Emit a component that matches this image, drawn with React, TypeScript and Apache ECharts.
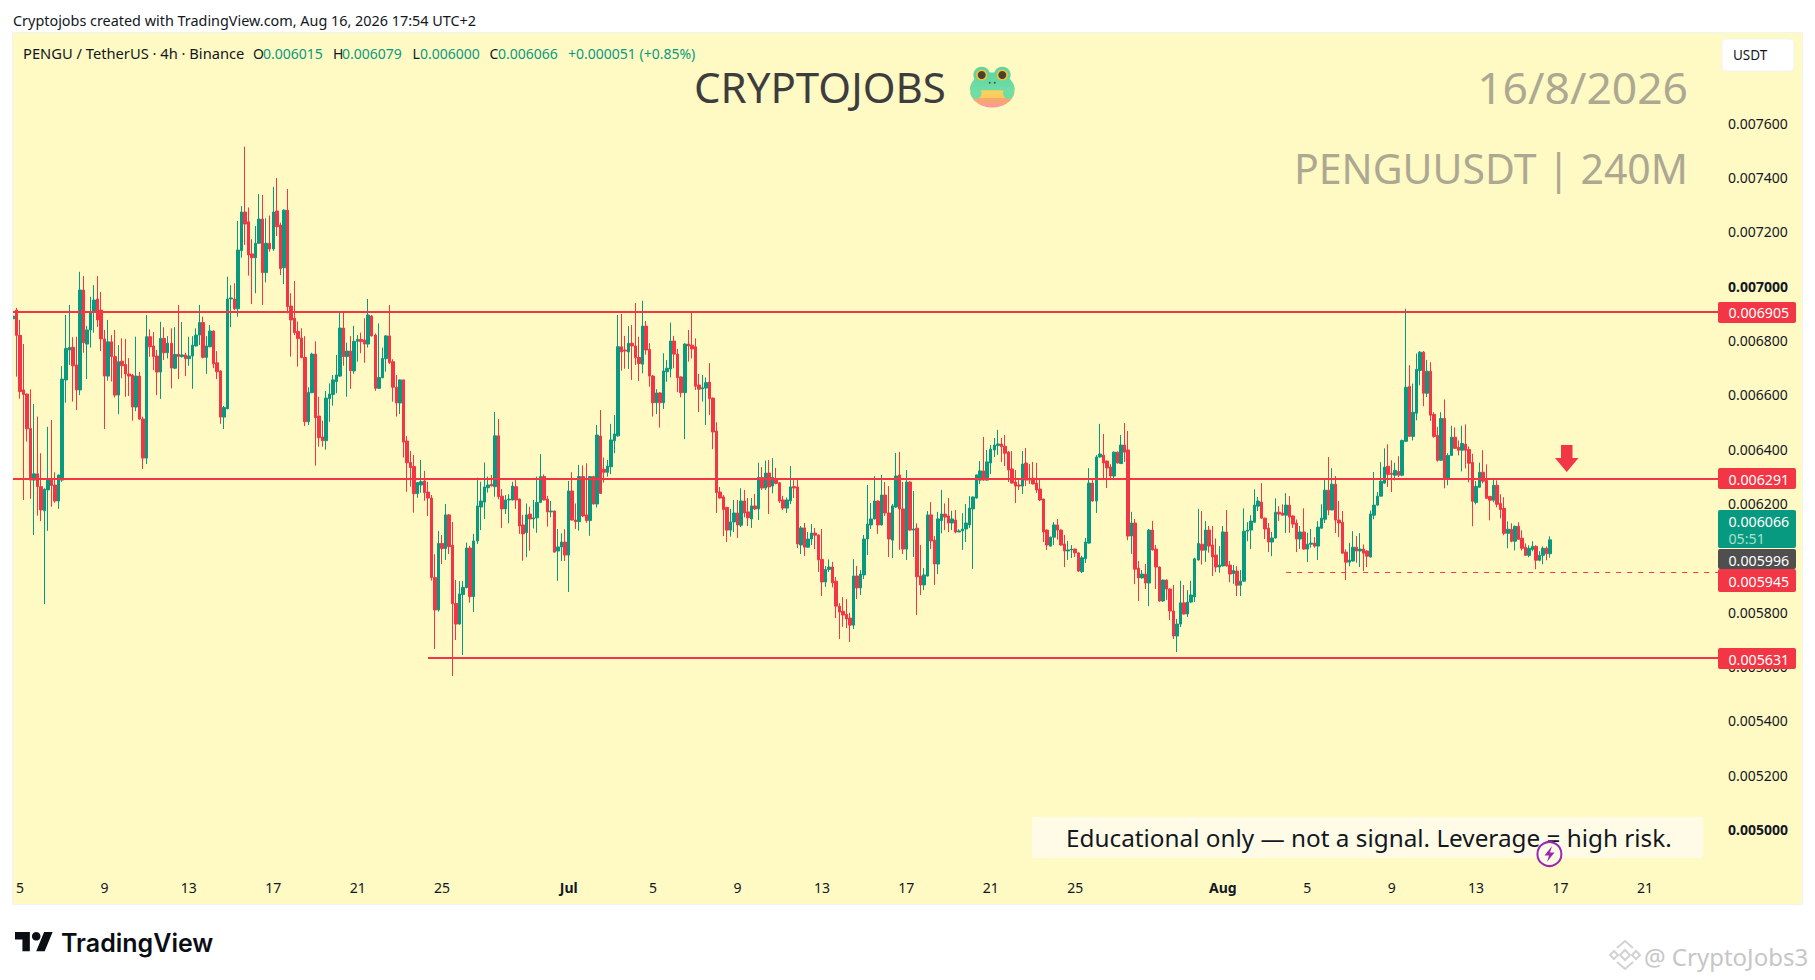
import React, { useEffect, useRef } from "react";
import * as echarts from "echarts";

// Prices are in millionths of USDT (6905 = 0.006905)
const opens = [
6880,6912,6819,6618,6603,6476,6286,6309,6262,6173,
6250,6286,6268,6209,6286,6655,6765,6775,6710,6618,
6986,6787,6839,6905,6953,6912,6806,6669,6795,6741,
6599,6724,6712,6677,6673,6555,6669,6511,6367,6814,
6780,6743,6684,6808,6755,6790,6698,6749,6741,6747,
6733,6743,6780,6820,6866,6738,6777,6835,6718,6688,
6518,6549,6953,6953,6917,7131,7273,7237,7119,7105,
7158,7247,7050,7158,7137,7277,7225,7068,7280,6927,
6882,6833,6809,6738,6501,6608,6750,6522,6445,6431,
6586,6601,6649,6669,6846,6741,6761,6688,6797,6804,
6802,6787,6890,6820,6624,6663,6733,6817,6722,6628,
6570,6655,6430,6351,6336,6236,6268,6283,6242,6220,
5927,5808,6053,6034,6158,6046,5832,5756,5865,5890,
6036,5857,6062,6187,6205,6258,6271,6262,6449,6227,
6180,6213,6213,6262,6216,6121,6093,6161,6143,6147,
6204,6299,6216,6169,6172,6025,6040,6058,6010,6246,
6139,6133,6299,6158,6137,6299,6198,6448,6326,6315,
6335,6431,6449,6777,6765,6758,6790,6780,6738,6713,
6853,6767,6669,6571,6607,6571,6685,6695,6798,6750,
6666,6608,6787,6783,6777,6636,6622,6625,6647,6588,
6467,6242,6224,6185,6102,6132,6165,6120,6209,6169,
6143,6191,6180,6296,6257,6312,6264,6290,6276,6213,
6183,6210,6262,6261,6047,6110,6039,6069,6091,6084,
5994,5911,5957,5966,5914,5822,5803,5792,5778,5752,
5933,5889,5937,6069,6121,6143,6209,6121,6231,6165,
6065,6187,6305,6180,6032,6279,6102,6109,5933,5900,
5933,6158,6065,5977,6137,6161,6154,6128,6139,6095,
6099,6106,6121,6180,6220,6286,6320,6286,6349,6397,
6413,6419,6411,6389,6327,6279,6268,6264,6349,6289,
6293,6275,6253,6216,6102,6043,6076,6121,6102,6051,
6025,6029,6032,6018,5949,5997,6054,6275,6209,6371,
6378,6356,6334,6301,6389,6347,6415,6397,6080,6128,
5962,5926,5940,5907,6102,6032,5966,5841,5918,5885,
5804,5712,5756,5834,5793,5837,5856,5992,6050,6028,
6102,6047,6010,5966,5970,6095,5973,5942,5951,5899,
5914,6098,6102,6131,6190,6205,6146,6109,6058,6073,
6168,6165,6157,6194,6154,6128,6069,6095,6032,6050,
6054,6043,6109,6142,6249,6176,6271,6139,6131,6021,
5984,5988,6039,6025,6032,6025,6003,6157,6194,6227,
6275,6337,6311,6304,6318,6304,6429,6631,6447,6532,
6690,6757,6606,6687,6528,6451,6359,6513,6293,6377,
6444,6407,6396,6418,6399,6351,6204,6260,6315,6285,
6226,6212,6267,6200,6182,6090,6105,6061,6116,6072,
6039,6009,6031,6042,5991,6009,6035,6015,
];
const closes = [
6890,6819,6612,6601,6475,6286,6309,6262,6176,6252,
6286,6266,6209,6305,6658,6771,6775,6707,6618,6986,
6792,6839,6906,6949,6876,6806,6669,6795,6741,6599,
6722,6707,6677,6669,6555,6669,6511,6367,6814,6777,
6741,6684,6808,6755,6790,6699,6749,6741,6747,6733,
6743,6783,6820,6866,6738,6780,6835,6714,6685,6518,
6553,6953,6957,6917,7133,7273,7229,7115,7105,7158,
7247,7050,7158,7137,7273,7219,7065,7280,6925,6876,
6829,6807,6737,6501,6609,6750,6516,6442,6431,6588,
6603,6655,6673,6846,6741,6761,6689,6797,6804,6796,
6787,6894,6817,6624,6664,6734,6817,6719,6628,6570,
6655,6426,6350,6332,6236,6277,6280,6240,6220,5927,
5808,6053,6034,6158,6041,5831,5756,5867,5891,6036,
5857,6062,6191,6209,6261,6268,6265,6449,6225,6180,
6213,6216,6264,6213,6117,6088,6158,6143,6147,6204,
6299,6213,6169,6172,6021,6040,6058,6010,6246,6139,
6133,6299,6154,6137,6299,6198,6452,6237,6315,6338,
6434,6456,6777,6758,6761,6790,6780,6737,6715,6853,
6765,6669,6571,6607,6571,6688,6698,6798,6750,6663,
6608,6787,6780,6769,6632,6621,6626,6645,6586,6463,
6240,6220,6178,6102,6132,6165,6121,6209,6165,6147,
6191,6180,6296,6257,6312,6261,6296,6274,6209,6183,
6213,6261,6257,6051,6110,6039,6069,6091,6083,5992,
5911,5957,5966,5908,5822,5800,5789,5775,5752,5933,
5889,5940,6069,6124,6143,6209,6121,6231,6165,6069,
6191,6301,6180,6032,6279,6102,6106,5930,5900,5937,
6158,6062,5977,6143,6161,6150,6128,6143,6095,6099,
6106,6128,6183,6224,6305,6320,6286,6353,6400,6415,
6419,6409,6385,6323,6275,6264,6264,6345,6286,6286,
6272,6250,6213,6095,6047,6076,6121,6102,6047,6025,
6029,6032,6018,5951,6000,6058,6275,6209,6371,6382,
6349,6331,6301,6389,6349,6415,6389,6080,6128,5958,
5926,5940,5907,6102,6029,5966,5841,5918,5885,5804,
5712,5756,5834,5793,5837,5863,5996,6053,6028,6102,
6043,6003,5966,5973,6095,5970,5940,5953,5899,5914,
6098,6102,6135,6194,6209,6146,6106,6058,6073,6168,
6161,6157,6194,6150,6124,6069,6095,6032,6050,6054,
6043,6113,6146,6249,6176,6271,6139,6128,6017,5984,
5991,6039,6025,6032,6017,6006,6161,6194,6227,6282,
6334,6307,6307,6322,6304,6432,6628,6447,6536,6694,
6757,6606,6687,6525,6447,6359,6513,6293,6377,6444,
6403,6396,6421,6396,6348,6208,6263,6315,6282,6219,
6212,6267,6197,6178,6090,6105,6061,6116,6068,6035,
6009,6035,6042,5991,6009,6035,6015,6066,
];
const lows = [
6783,6667,6586,6213,6428,6217,6084,6155,6135,5830,
6099,6188,6203,6180,6280,6571,6710,6575,6544,6599,
6755,6658,6774,6829,6850,6761,6474,6652,6649,6590,
6529,6661,6593,6596,6505,6540,6508,6327,6345,6740,
6691,6599,6585,6728,6734,6624,6695,6658,6737,6669,
6707,6622,6778,6783,6734,6677,6775,6698,6658,6493,
6474,6547,6849,6912,6888,7105,7152,7039,6934,6974,
7156,6931,7014,7127,7130,7185,7041,7008,6900,6741,
6820,6704,6735,6485,6489,6606,6339,6409,6409,6398,
6501,6560,6606,6667,6707,6593,6622,6677,6722,6753,
6718,6774,6815,6615,6622,6661,6685,6714,6575,6520,
6529,6369,6243,6262,6166,6221,6240,6210,6154,5916,
5664,5802,5977,5992,6014,5565,5697,5754,5642,5888,
5835,5800,6051,6102,6143,6240,6262,6225,6215,6110,
6161,6127,6211,6180,6088,5989,6002,6026,6108,6092,
6202,6211,6115,6149,6019,5915,5988,5988,5874,6137,
6106,6100,6150,6129,6081,6196,6185,6235,6277,6299,
6308,6385,6446,6689,6696,6695,6655,6710,6651,6679,
6748,6630,6520,6529,6479,6548,6648,6664,6698,6610,
6591,6437,6722,6734,6618,6537,6575,6489,6526,6400,
6165,6218,6080,6058,6078,6095,6073,6113,6149,6117,
6110,6176,6139,6250,6250,6161,6237,6270,6202,6176,
6165,6198,6220,6036,6014,6007,6037,6047,6032,5948,
5859,5893,5948,5891,5778,5701,5746,5741,5690,5738,
5848,5863,5922,6010,6106,6141,6088,6119,6154,6003,
5999,6184,6029,6014,5992,6100,6003,5789,5863,5881,
5931,6032,5900,5940,6090,6102,6095,6102,6090,6097,
6029,6058,6110,5959,6218,6272,6284,6284,6308,6371,
6379,6353,6338,6279,6274,6202,6250,6235,6264,6272,
6270,6239,6209,6058,6029,6041,6047,6067,6045,5966,
5992,5999,6003,5948,5944,5981,6052,6207,6165,6369,
6286,6257,6294,6286,6347,6345,6353,6065,6014,5903,
5841,5924,5885,5822,6027,5885,5838,5838,5845,5771,
5701,5653,5745,5791,5782,5833,5837,5990,5975,5985,
6019,5933,5947,5945,5968,5968,5910,5904,5859,5859,
5912,6061,6032,6129,6172,6144,6069,6021,6006,6071,
6135,6155,6091,6092,6110,6021,6032,6030,5984,6037,
6037,5992,6107,6128,6157,6175,6091,6076,6015,5918,
5969,5986,5982,5966,5951,5966,6001,6142,6192,6226,
6273,6261,6242,6285,6297,6300,6427,6445,6432,6506,
6635,6558,6592,6504,6442,6354,6357,6256,6267,6375,
6401,6377,6318,6329,6278,6116,6197,6258,6274,6217,
6138,6204,6186,6145,6083,6035,6057,6027,6066,6027,
6007,6002,6024,5958,5987,5976,5991,6000,
];
const highs = [
6998,6920,6876,6787,6605,6620,6566,6520,6385,6256,
6482,6507,6315,6305,6706,6894,6931,6812,6814,7053,
7037,6854,6961,7004,7037,6979,6839,6876,6820,6839,
6783,6808,6806,6735,6677,6814,6684,6520,6894,6841,
6831,6765,6869,6849,6816,6845,6849,6931,6868,6755,
6814,6816,6845,6931,6888,6816,6857,6837,6761,6690,
6559,7035,7004,7011,7240,7295,7514,7290,7173,7222,
7339,7336,7250,7260,7366,7398,7234,7283,7358,6974,
7019,6870,6845,6816,6628,6755,6797,6593,6505,6614,
6642,6673,6747,6906,6906,6792,6816,6854,6820,6829,
6882,6953,6894,6826,6863,6774,6820,6931,6731,6673,
6657,6655,6448,6393,6379,6278,6360,6320,6280,6231,
6013,6099,6084,6198,6161,6132,5918,5914,5914,6056,
6044,6088,6295,6280,6351,6299,6305,6537,6511,6253,
6231,6234,6280,6286,6218,6158,6200,6188,6213,6299,
6382,6307,6228,6209,6174,6106,6090,6105,6283,6315,
6200,6342,6340,6348,6301,6302,6489,6544,6369,6360,
6493,6526,6894,6898,6817,6853,6857,6938,6814,6946,
6872,6790,6673,6621,6610,6753,6728,6866,6817,6769,
6668,6790,6839,6905,6808,6677,6673,6664,6717,6590,
6499,6261,6231,6188,6180,6213,6213,6256,6250,6220,
6220,6235,6350,6334,6358,6360,6367,6331,6278,6228,
6222,6338,6286,6290,6117,6128,6095,6124,6110,6086,
6106,5970,5994,5985,5929,5833,5855,5848,5797,5995,
5970,5955,6084,6268,6202,6301,6211,6305,6279,6264,
6198,6386,6390,6279,6323,6281,6246,6127,6047,5962,
6172,6205,6080,6169,6250,6200,6220,6173,6176,6105,
6164,6198,6227,6225,6307,6356,6445,6397,6415,6441,
6471,6441,6452,6393,6393,6323,6286,6393,6404,6345,
6353,6350,6290,6218,6104,6078,6132,6143,6104,6084,
6062,6047,6034,6020,6007,6073,6330,6286,6378,6493,
6456,6358,6345,6391,6391,6452,6496,6467,6169,6143,
5988,5955,5977,6106,6136,6047,5968,5920,5920,5887,
5900,5775,5915,5900,5881,5915,6000,6180,6172,6135,
6117,6117,6071,6043,6117,6176,5988,5973,5969,5955,
6182,6131,6157,6252,6224,6275,6148,6128,6095,6219,
6190,6197,6238,6227,6156,6141,6117,6182,6092,6106,
6076,6135,6197,6291,6371,6330,6301,6209,6172,6031,
6055,6098,6080,6091,6049,6027,6174,6316,6242,6352,
6403,6418,6359,6350,6374,6435,6917,6709,6641,6752,
6761,6761,6729,6720,6536,6482,6536,6583,6385,6486,
6480,6432,6486,6491,6410,6383,6282,6350,6396,6344,
6228,6289,6285,6234,6223,6134,6127,6118,6131,6101,
6053,6046,6061,6046,6024,6042,6042,6079,
];

const xTickIndex = [2, 26, 50, 74, 98, 122, 158, 182, 206, 230, 254, 278, 302, 344, 368, 392, 416, 440, 464];
const xTickText = ["5", "9", "13", "17", "21", "25", "Jul", "5", "9", "13", "17", "21", "25", "Aug", "5", "9", "13", "17", "21"];
const boldPrices = [7000, 5000];
const hiddenPrices = [4800, 6000, 7800];
const solidLevels = [6905, 6291, 5631];
const solidLevelStarts = [0, 0, 118];
const dashedLevel = 5945;
const dashedLevelStart = 362;
const BAR_SLOTS = 486;

const GREEN = "#089981";
const RED = "#F23645";
const INK = "#131722";
const UI = '"Noto Sans", sans-serif';

const fmt = (v: number) => (v / 1e6).toFixed(6);

const txt = (text: string, x: number, y: number, fontSize: number, fill: string, extra: any = {}, z = 110) => ({
  type: "text",
  x,
  y,
  z,
  silent: true,
  style: {
    text,
    fill,
    fontFamily: UI,
    fontSize,
    fontWeight: extra.fontWeight ?? "normal",
    textAlign: extra.align ?? "left",
    textVerticalAlign: "middle",
    verticalAlign: "middle",
  },
});

const tag = (y0: number, y1: number, color: string) => ({
  type: "rect", z: 100, silent: true, shape: { x: 1718, y: y0, width: 78, height: y1 - y0, r: 2 }, style: { fill: color },
});

export default function App() {
  const ref = useRef<HTMLDivElement>(null);
  useEffect(() => {
    if (!ref.current) return;
    echarts.graphic.registerShape(
      "tvMark",
      echarts.graphic.extendPath("M14 22H7V11H0V4h14v18zM28 22h-8l7.5-18h8L28 22z", {}) as any
    );
    const chart = echarts.init(ref.current, undefined, { renderer: "svg" });
    const t0 = Date.UTC(2026, 5, 4, 16);
    const categories = Array.from({ length: BAR_SLOTS }, (_, i) => new Date(t0 + i * 4 * 3600e3).toISOString());
    const candles = opens.map((o, i) => [o, closes[i], lows[i], highs[i]]);

    const frogFill = new echarts.graphic.LinearGradient(0, 0, 0, 1, [
      { offset: 0, color: "#5FD6A0" },
      { offset: 0.5, color: "#6FDDA6" },
      { offset: 0.52, color: "#FAD25A" },
      { offset: 0.72, color: "#FBCB5C" },
      { offset: 0.74, color: "#F8A96E" },
      { offset: 0.9, color: "#F8A27A" },
      { offset: 0.92, color: "#F79A9A" },
      { offset: 1, color: "#F79A9A" },
    ]);

    const wm = "#D2D2D2";
    const wmLine = (points: number[][], closed: boolean) => ({
      type: closed ? "polygon" : "polyline",
      z: 100,
      silent: true,
      shape: { points },
      style: { fill: "none", stroke: wm, lineWidth: 2 },
    });
    const graphicEls: any[] = [
      { type: "rect", z: -10, silent: true, shape: { x: 12, y: 32, width: 1791, height: 873 }, style: { fill: "#F0F3FA" } },
      { type: "rect", z: -9, silent: true, shape: { x: 13, y: 33, width: 1789, height: 871 }, style: { fill: "#FFF9C4" } },
      { type: "rect", z: 99, silent: true, shape: { x: 0, y: 33, width: 13, height: 871 }, style: { fill: "#FFFFFF" } },
      { type: "rect", z: 99, silent: true, shape: { x: 12, y: 33, width: 1, height: 871 }, style: { fill: "#F0F3FA" } },
      txt("Cryptojobs created with TradingView.com, Aug 16, 2026 17:54 UTC+2", 13, 20, 14.4, INK),
      txt("PENGU / TetherUS · 4h · Binance", 23, 53, 14.7, INK),
      txt("O", 253, 53, 14, INK),
      txt("0.006015", 263, 53, 14, GREEN),
      txt("H", 333, 53, 14, INK),
      txt("0.006079", 342, 53, 14, GREEN),
      txt("L", 412.5, 53, 14, INK),
      txt("0.006000", 420, 53, 14, GREEN),
      txt("C", 489.5, 53, 14, INK),
      txt("0.006066", 498, 53, 14, GREEN),
      txt("+0.000051 (+0.85%)", 568, 53, 14, GREEN),
      txt("CRYPTOJOBS", 694, 86.5, 42, "#3D3D3D"),
      txt("16/8/2026", 1688, 86.5, 44.4, "#ADA892", { align: "right" }),
      txt("PENGUUSDT | 240M", 1688, 168, 41, "#ADA892", { align: "right" }),
      // frog mascot
      { type: "circle", z: 100, silent: true, shape: { cx: 981.7, cy: 75, r: 8.3 }, style: { fill: "#5FD6A0" } },
      { type: "circle", z: 100, silent: true, shape: { cx: 1002.3, cy: 75, r: 8.3 }, style: { fill: "#5FD6A0" } },
      { type: "ellipse", z: 100, silent: true, shape: { cx: 992.3, cy: 90, rx: 22.5, ry: 17.5 }, style: { fill: frogFill } },
      { type: "ellipse", z: 101, silent: true, shape: { cx: 976, cy: 93, rx: 5.5, ry: 6 }, style: { fill: "#6FDDA6" } },
      { type: "ellipse", z: 101, silent: true, shape: { cx: 1008.5, cy: 93, rx: 5.5, ry: 6 }, style: { fill: "#6FDDA6" } },
      { type: "circle", z: 101, silent: true, shape: { cx: 981.7, cy: 75, r: 5.6 }, style: { fill: "#F2C230" } },
      { type: "circle", z: 101, silent: true, shape: { cx: 1002.3, cy: 75, r: 5.6 }, style: { fill: "#F2C230" } },
      { type: "circle", z: 102, silent: true, shape: { cx: 981.7, cy: 75, r: 4 }, style: { fill: "#4A4038" } },
      { type: "circle", z: 102, silent: true, shape: { cx: 1002.3, cy: 75, r: 4 }, style: { fill: "#4A4038" } },
      { type: "circle", z: 102, silent: true, shape: { cx: 989.7, cy: 82.7, r: 0.9 }, style: { fill: "#3C4A40" } },
      { type: "circle", z: 102, silent: true, shape: { cx: 994.7, cy: 82.7, r: 0.9 }, style: { fill: "#3C4A40" } },
      // USDT button
      { type: "rect", z: 100, silent: true, shape: { x: 1722, y: 39, width: 72, height: 32, r: 4 }, style: { fill: "#FFFFFF", stroke: "#F0F3FA", lineWidth: 1 } },
      txt("USDT", 1733, 54.5, 13.5, INK),
      // price tags
      tag(302, 323, RED),
      tag(468, 489, RED),
      tag(510, 548, GREEN),
      tag(549, 569, "#4F4F4F"),
      tag(569, 592, RED),
      tag(648, 669, RED),
      txt("0.006905", 1728.5, 312.5, 14.2, "#FFFFFF", {}, 111),
      txt("0.006291", 1728.5, 479, 14.2, "#FFFFFF", {}, 111),
      txt("0.006066", 1728.5, 521, 14.2, "#FFFFFF", {}, 111),
      txt("05:51", 1728.5, 538, 14.2, "#A9E0CF", {}, 111),
      txt("0.005996", 1728.5, 560, 14.2, "#FFFFFF", {}, 111),
      txt("0.005945", 1728.5, 581, 14.2, "#FFFFFF", {}, 111),
      txt("0.005631", 1728.5, 659, 14.2, "#FFFFFF", {}, 111),
      // red arrow
      {
        type: "polygon", z: 100, silent: true,
        shape: { points: [[1561, 445], [1572.5, 445], [1572.5, 458], [1578.5, 458], [1566.7, 472], [1555, 458], [1561, 458]] },
        style: { fill: RED },
      },
      // disclaimer
      { type: "rect", z: 100, silent: true, shape: { x: 1032, y: 817, width: 671, height: 41 }, style: { fill: "#FFFBE6" } },
      txt("Educational only — not a signal. Leverage = high risk.", 1066, 837, 24.3, INK),
      { type: "circle", z: 112, silent: true, shape: { cx: 1549.4, cy: 854, r: 12 }, style: { fill: "#FFFBE6", stroke: "#9C27B0", lineWidth: 2 } },
      {
        type: "polygon", z: 113, silent: true,
        shape: { points: [[1552, 846], [1544.5, 855.5], [1549, 855.5], [1547, 862], [1554.5, 852.5], [1550, 852.5]] },
        style: { fill: "#9C27B0" },
      },
      // footer
      { type: "tvMark", x: 15, y: 927.7, scaleX: 1.06, scaleY: 1.07, z: 100, silent: true, style: { fill: "#0B0E14" } },
      { type: "circle", z: 100, silent: true, shape: { cx: 36.2, cy: 936.3, r: 4.3 }, style: { fill: "#0B0E14" } },
      {
        type: "text", x: 61, y: 943, z: 100, silent: true,
        style: { text: "TradingView", fill: "#0B0E14", fontFamily: "Inter, sans-serif", fontSize: 25, fontWeight: 600, textVerticalAlign: "middle", verticalAlign: "middle" },
      },
      // watermark
      wmLine([[1625, 950], [1630, 955], [1625, 960], [1620, 955]], true),
      wmLine([[1614, 951], [1618, 955], [1614, 959], [1610, 955]], true),
      wmLine([[1636, 951], [1640, 955], [1636, 959], [1632, 955]], true),
      wmLine([[1617, 948], [1625, 941], [1633, 948]], false),
      wmLine([[1617, 962], [1625, 969], [1633, 962]], false),
      txt("@ CryptoJobs3", 1644, 956, 24, "#C6C6C6", {}, 100),
    ];

    chart.setOption({
      animation: false,
      backgroundColor: "#FFFFFF",
      graphic: { elements: graphicEls },
      grid: { left: 11.24, top: 68.93, width: 1709.3, height: 814.76, containLabel: false },
      xAxis: {
        type: "category",
        data: categories,
        boundaryGap: true,
        axisLine: { show: false },
        axisTick: { show: false },
        splitLine: { show: false },
        axisLabel: {
          interval: (i: number) => xTickIndex.includes(i),
          formatter: (_: string, i: number) => {
            const t = xTickText[xTickIndex.indexOf(i)] ?? "";
            return t === "Jul" || t === "Aug" ? `{b|${t}}` : t;
          },
          margin: -3,
          color: INK,
          fontFamily: UI,
          fontSize: 14,
          rich: { b: { fontWeight: "bold", fontFamily: UI, fontSize: 14, color: INK } },
        },
      },
      yAxis: {
        type: "value",
        position: "right",
        min: 4800,
        max: 7800,
        interval: 200,
        axisLine: { show: false },
        axisTick: { show: false },
        splitLine: { show: false },
        axisLabel: {
          margin: 7.5,
          color: INK,
          fontFamily: UI,
          fontSize: 14,
          formatter: (v: number) => {
            if (hiddenPrices.includes(v)) return "";
            return boldPrices.includes(v) ? `{b|${fmt(v)}}` : fmt(v);
          },
          rich: { b: { fontWeight: "bold", fontFamily: UI, fontSize: 14, color: INK } },
        },
      },
      series: [
        {
          type: "candlestick",
          data: candles,
          barWidth: 3,
          itemStyle: { color: GREEN, color0: RED, borderColor: GREEN, borderColor0: RED, borderWidth: 1 },
          markLine: {
            silent: true,
            animation: false,
            symbol: ["none", "none"],
            label: { show: false },
            data: [
              ...solidLevels.map((v, i) => [
                { coord: [solidLevelStarts[i], v], lineStyle: { color: RED, width: 2, type: "solid" } },
                { coord: [BAR_SLOTS - 1, v] },
              ]),
              [
                { coord: [dashedLevelStart, dashedLevel], lineStyle: { color: RED, width: 1.2, type: [5, 6] } },
                { coord: [BAR_SLOTS - 1, dashedLevel] },
              ],
            ],
          },
        },
      ],
    } as any);
    return () => chart.dispose();
  }, []);
  return <div ref={ref} style={{ position: "fixed", left: 0, top: 0, width: 1815, height: 980 }} />;
}
